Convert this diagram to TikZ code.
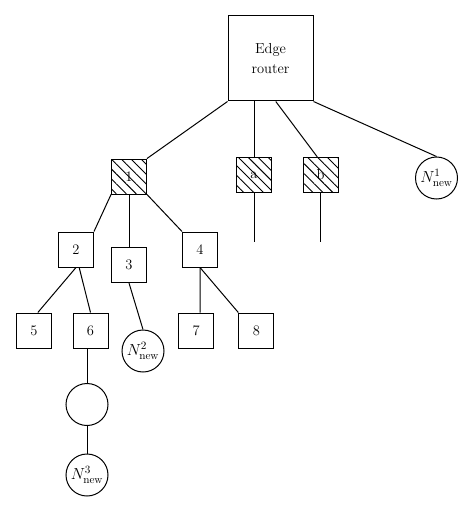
\documentclass[tikz,border=0pt]{standalone}
\usepackage{fix-cm}
\usepackage{amsmath}
\usetikzlibrary{patterns.meta}
\begin{document}
\begin{tikzpicture}[x=1pt,y=1pt]
\tikzstyle{every node}+=[inner sep=0pt, font=\fontsize{14.5}{20}\selectfont]
\tikzstyle{box}=[draw=black, line width=1pt, minimum size=35]
\tikzstyle{hatched}=[box, pattern={Lines[angle=-45, distance=7pt, line width=0.9pt]}]
\tikzstyle{host}=[draw=black, line width=1pt, circle, minimum size=42, font=\fontsize{16}{20}\selectfont]
\tikzstyle{link}=[black, line width=1pt]
\useasboundingbox (0,0) rectangle (474,-513);
% router and first level
\node [box, minimum size=85, align=center] (router) at (270.5,-58.5) {Edge\\router};
\node [hatched] (b1) at (129,-176.5) {1};
\node [hatched] (ba) at (254,-175) {a};
\node [hatched] (bb) at (320.5,-175) {b};
\node [host] (n1) at (436.5,-178) {$N^{1}_{\mathrm{new}}$};
% second level
\node [box] (b2) at (76,-249.5) {2};
\node [box] (b3) at (129,-265) {3};
\node [box] (b4) at (200,-249.5) {4};
% third level
\node [box] (b5) at (34,-330.5) {5};
\node [box] (b6) at (90.5,-330.5) {6};
\node [host] (n2) at (143,-351) {$N^{2}_{\mathrm{new}}$};
\node [box] (b7) at (196.2,-330.5) {7};
\node [box] (b8) at (256.3,-330.5) {8};
\node [host] (relay) at (87,-404.5) {};
\node [host] (n3) at (87,-475) {$N^{3}_{\mathrm{new}}$};
\coordinate (enda) at (254,-242);
\coordinate (endb) at (320.5,-242);
% links
\draw [link] (router.south west) -- (b1.north east);
\draw [link] (ba.north |- router.south) -- (ba.north);
\draw [link] (router.-83) -- (bb.100);
\draw [link] (router.south east) -- (n1.north);
\draw [link] (ba.south) -- (enda);
\draw [link] (bb.south) -- (endb);
\draw [link] (b1.south west) -- (b2.north east);
\draw [link] (b1.south) -- (b3.north);
\draw [link] (b1.south east) -- (b4.north west);
\draw [link] (b2.south) -- (b5.78);
\draw [link] (b2.-80) -- (b6.north);
\draw [link] (b3.south) -- (n2.north);
\draw [link] (b4.south) -- (b7.78);
\draw [link] (b4.south) -- (b8.north west);
\draw [link] (relay.north |- b6.south) -- (relay.north);
\draw [link] (relay.south) -- (n3.north);
\end{tikzpicture}
\end{document}
